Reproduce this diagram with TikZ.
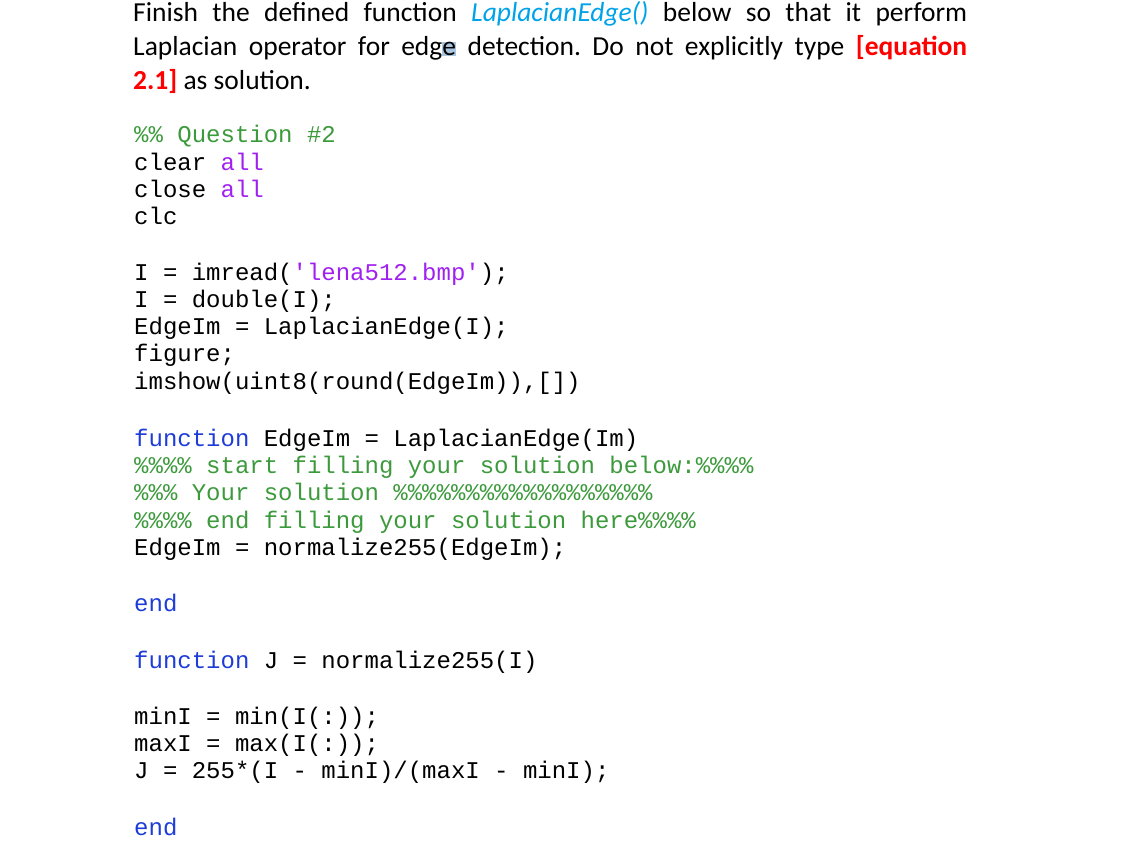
\documentclass[tikz,border=0pt]{standalone}
\usepackage{fontspec}
\setmainfont{Carlito}
\setmonofont{Liberation Mono}
\frenchspacing
\definecolor{cmt}{HTML}{3C9A3C}
\definecolor{kw}{HTML}{1E3CD8}
\definecolor{str}{HTML}{A020F0}
\definecolor{lb}{HTML}{00A2E8}
\definecolor{rd}{HTML}{FF0000}
\definecolor{hl}{HTML}{A9C6E0}
\begin{document}
\begin{tikzpicture}[x=1pt,y=1pt,
  prose/.style={anchor=mid west,inner sep=0,font=\fontsize{27.5}{32}\selectfont},
  code/.style={anchor=mid west,inner sep=0,font=\fontsize{24}{27}\ttfamily}]
\useasboundingbox (0,0) rectangle (1134,848);
\node[prose] (p1) at (133,829) {\makebox[834pt][s]{Finish the defined function \textcolor{lb}{\itshape LaplacianEdge()} below so that it perform}};
\node[prose] (p2) at (133,795) {\makebox[834pt][s]{Laplacian operator for edg{\setlength{\fboxsep}{0pt}\colorbox{hl}{e}} detection. Do not explicitly type \textcolor{rd}{\bfseries [equation}}};
\node[prose] (p3) at (133,761) {\textcolor{rd}{\bfseries 2.1]} as solution.};
\node[code] (c1) at (134,708) {\textcolor{cmt}{\%\% Question \#2}};
\node[code] (c2) at (134,680) {clear \textcolor{str}{all}};
\node[code] (c3) at (134,653) {close \textcolor{str}{all}};
\node[code] (c4) at (134,626) {clc};
\node[code] (c5) at (134,570) {I = imread(\textcolor{str}{'lena512.bmp'});};
\node[code] (c6) at (134,543) {I = double(I);};
\node[code] (c7) at (134,516) {EdgeIm = LaplacianEdge(I);};
\node[code] (c8) at (134,489) {figure;};
\node[code] (c9) at (134,461) {imshow(uint8(round(EdgeIm)),[])};
\node[code] (d1) at (134,404) {\textcolor{kw}{function} EdgeIm = LaplacianEdge(Im)};
\node[code] (d2) at (134,377) {\textcolor{cmt}{\%\%\%\% start filling your solution below:\%\%\%\%}};
\node[code] (d3) at (134,350) {\textcolor{cmt}{\%\%\% Your solution \%\%\%\%\%\%\%\%\%\%\%\%\%\%\%\%\%\%}};
\node[code] (d4) at (134,322) {\textcolor{cmt}{\%\%\%\% end filling your solution here\%\%\%\%}};
\node[code] (d5) at (134,295) {EdgeIm = normalize255(EdgeIm);};
\node[code] (d6) at (134,239) {\textcolor{kw}{end}};
\node[code] (e1) at (134,182) {\textcolor{kw}{function} J = normalize255(I)};
\node[code] (e2) at (134,126) {minI = min(I(:));};
\node[code] (e3) at (134,99) {maxI = max(I(:));};
\node[code] (e4) at (134,72) {J = 255*(I - minI)/(maxI - minI);};
\node[code] (e5) at (134,15) {\textcolor{kw}{end}};
\end{tikzpicture}
\end{document}
